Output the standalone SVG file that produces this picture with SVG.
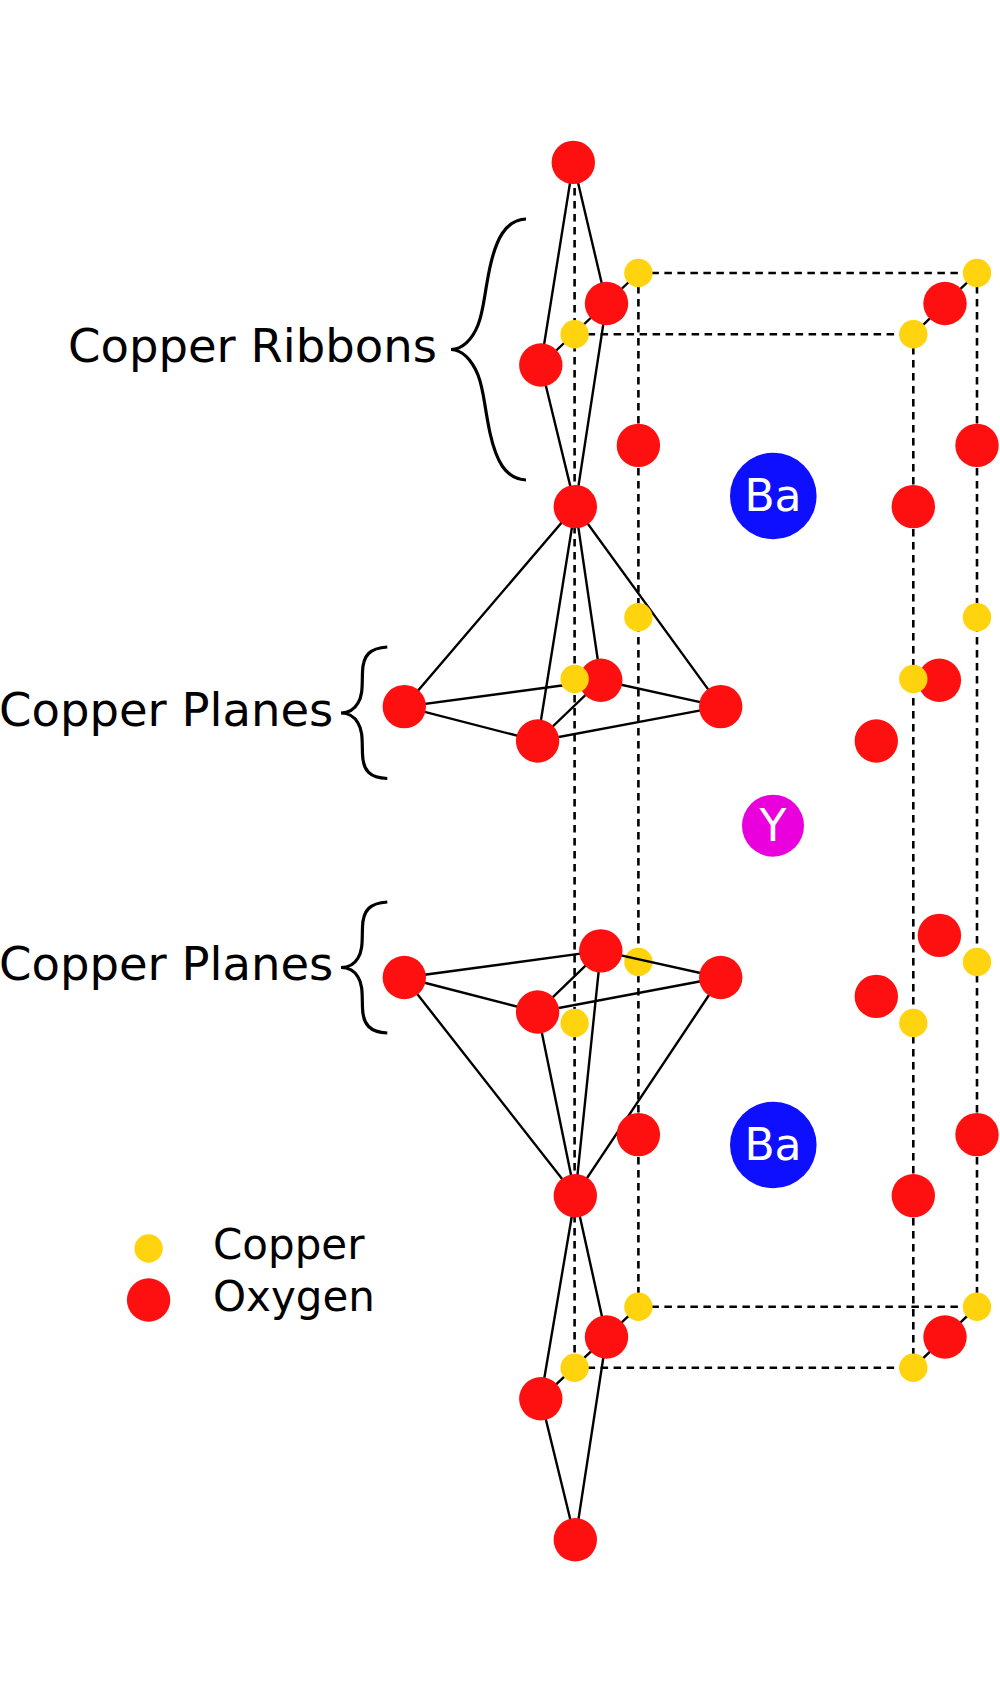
<svg xmlns="http://www.w3.org/2000/svg" width="1000" height="1702" viewBox="0 0 1000 1702">
<defs>
<style>
.o{fill:#ff1010}
.cu{fill:#ffd40f}
.s{fill:none;stroke:#000;stroke-width:2.4}
.d{fill:none;stroke:#000;stroke-width:2.6;stroke-dasharray:7.5 5.5}
.b{fill:none;stroke:#000;stroke-width:3.2}
text{font-family:"DejaVu Sans",sans-serif;fill:#000}
.lab{font-size:46.5px}
.leg{font-size:42px}
.w{font-size:44px;fill:#fff;text-anchor:middle}
</style>
<circle id="O" r="21.7"/>
<circle id="Cu" r="14.2"/>
</defs>
<rect width="1000" height="1702" fill="#fff"/>
<g id="connectors-dashed">
<path class="d" d="M574.6 162V1368M638.4 273V1307M913.3 334V1368M977 273V1307M638.4 273H977M574.6 334.3H913.3M638.4 1306.7H977M574.6 1367.7H913.3"/>
</g>
<g id="cu-behind"><use href="#Cu" class="cu" x="638.4" y="962"/></g>
<g id="connectors">
<path class="s" d="M573.3 162.4L540.8 365L575.3 506.6L606.5 303.5L573.3 162.4M540.8 365L638.4 273M913.3 334.3L977 273"/>
<path class="s" d="M575.3 506.6L404.3 706.6L600.8 680.3L720.7 706.6L537.6 741L404.3 706.6M575.3 506.6L720.7 706.6M575.3 506.6L537.6 741L600.8 680.3L575.3 506.6"/>
<path class="s" d="M575.3 1195.7L404.3 977.5L600.8 950.9L720.7 977.5L537.6 1012L404.3 977.5M575.3 1195.7L720.7 977.5M575.3 1195.7L537.6 1012L600.8 950.9L575.3 1195.7"/>
<path class="s" d="M575.3 1195.7L540.8 1398.8L575.3 1539.8L606.5 1337L575.3 1195.7M540.8 1398.8L638.4 1306.7M913.3 1367.7L977 1306.7"/>
</g>
<g id="braces">
<path class="b" d="M526 219C505 220 496 240 490 267C484 295 484 310 478 325C472 340 462 349.5 451 349.5C462 349.5 472 360 478 375C484 390 484 405 490 433C496 460 505 479 526 480"/>
<path class="b" d="M387.3 647C370 648 363 655 362.5 672C362 685 363 695 358 703C354 710 348 713 341 713C348 713 354 716 358 723C363 731 362 741 362.5 754C363 771 370 778 387.3 778.5"/>
<path class="b" d="M387.3 902C370 903 363 910 362.5 927C362 940 363 950 358 958C354 965 348 967.5 341 967.5C348 967.5 354 970 358 977C363 985 362 995 362.5 1008C363 1025 370 1032 387.3 1033"/>
</g>
<g id="cu-atoms" class="cu">
<use href="#Cu" x="638.4" y="273"/><use href="#Cu" x="977" y="273"/>
<use href="#Cu" x="574.6" y="334.3"/><use href="#Cu" x="913.3" y="334.3"/>
<use href="#Cu" x="638.4" y="617.3"/><use href="#Cu" x="977" y="617.3"/>
<use href="#Cu" x="977" y="962"/>
<use href="#Cu" x="574.6" y="1023"/><use href="#Cu" x="913.3" y="1023"/>
<use href="#Cu" x="638.4" y="1306.7"/><use href="#Cu" x="977" y="1306.7"/>
<use href="#Cu" x="574.6" y="1367.7"/><use href="#Cu" x="913.3" y="1367.7"/>
</g>
<g id="o-atoms" class="o">
<use href="#O" x="573.3" y="162.4"/>
<use href="#O" x="606.5" y="303.5"/><use href="#O" x="945" y="303.5"/>
<use href="#O" x="540.8" y="365"/>
<use href="#O" x="638.4" y="445.4"/><use href="#O" x="977" y="445.4"/>
<use href="#O" x="575.3" y="506.6"/><use href="#O" x="913.3" y="506.6"/>
<use href="#O" x="600.8" y="680.3"/><use href="#O" x="939.4" y="680.3"/>
<use href="#O" x="404.3" y="706.6"/><use href="#O" x="720.7" y="706.6"/>
<use href="#O" x="537.6" y="741"/><use href="#O" x="876.3" y="741"/>
<use href="#O" x="600.8" y="950.9"/><use href="#O" x="939.4" y="935.4"/>
<use href="#O" x="404.3" y="977.5"/><use href="#O" x="720.7" y="977.5"/>
<use href="#O" x="537.6" y="1012"/><use href="#O" x="876.3" y="996.4"/>
<use href="#O" x="638.4" y="1134.6"/><use href="#O" x="977" y="1134.6"/>
<use href="#O" x="575.3" y="1195.7"/><use href="#O" x="913.3" y="1195.7"/>
<use href="#O" x="606.5" y="1337"/><use href="#O" x="945" y="1337"/>
<use href="#O" x="540.8" y="1398.8"/>
<use href="#O" x="575.3" y="1539.8"/>
</g>
<g id="cu-front" class="cu">
<use href="#Cu" x="574.6" y="679"/><use href="#Cu" x="913.3" y="679"/>
</g>
<g id="ba-top"><circle cx="773.3" cy="496" r="43.3" fill="#0f0fff"/><text class="w" x="773" y="511">Ba</text></g>
<g id="y"><circle cx="771" cy="825.7" r="31" fill="#ea00dd" transform="translate(2 0)"/><text class="w" x="773" y="841">Y</text></g>
<g id="ba-bottom"><circle cx="773.3" cy="1145" r="43.3" fill="#0f0fff"/><text class="w" x="773" y="1160">Ba</text></g>
<g id="labels">
<text class="lab" x="68" y="362">Copper Ribbons</text>
<text class="lab" x="-1" y="726">Copper Planes</text>
<text class="lab" x="-1" y="980">Copper Planes</text>
</g>
<g id="legend">
<use href="#Cu" class="cu" x="148.6" y="1248.5"/>
<use href="#O" class="o" x="148.6" y="1300"/>
<text class="leg" x="213" y="1258.5">Copper</text>
<text class="leg" x="213" y="1310.5">Oxygen</text>
</g>
</svg>
